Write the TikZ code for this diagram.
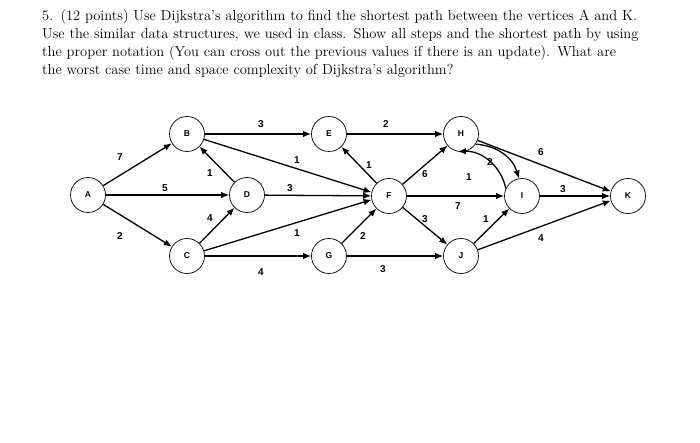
\documentclass[tikz,border=0pt]{standalone}
\usetikzlibrary{arrows.meta}
\usepackage{fontspec}
\newfontfamily\arialf{Liberation Sans}
\begin{document}
\begin{tikzpicture}[x=1pt,y=-1pt,
  vert/.style={circle,draw,line width=0.7pt,minimum size=35pt,inner sep=0pt,font=\arialf\bfseries\fontsize{8.5}{8.5}\selectfont},
  arc/.style={line width=1.3pt,-{Latex[length=8pt,width=6.5pt]}},
  wt/.style={font=\arialf\bfseries\fontsize{10}{10}\selectfont,inner sep=0pt}]
\useasboundingbox (0,0) rectangle (700,443);
\node[anchor=north west,align=left,text width=650pt,inner sep=0pt,font=\fontsize{14.5}{18.2}\selectfont] (q) at (42,9)
{5. (12 points) Use Dijkstra's algorithm to find the shortest path between the vertices A and K.\\
Use the similar data structures, we used in class. Show all steps and the shortest path by using\\
the proper notation (You can cross out the previous values if there is an update). What are\\
the worst case time and space complexity of Dijkstra's algorithm?};
\node[vert] (A) at (88,195) {A};
\node[vert] (B) at (187,134) {B};
\node[vert] (E) at (329,134) {E};
\node[vert] (H) at (461,134) {H};
\node[vert] (D) at (247,195) {D};
\node[vert] (F) at (389,196) {F};
\node[vert] (I) at (522,196) {I};
\node[vert] (K) at (628,196) {K};
\node[vert] (C) at (187,256) {C};
\node[vert] (G) at (329,256) {G};
\node[vert] (J) at (461,256) {J};
\draw[arc] (A)--(B); \draw[arc] (A)--(D); \draw[arc] (A)--(C);
\draw[arc] (B)--(E); \draw[arc] (B)--(F.168); \draw[arc] (D)--(B);
\draw[arc] (D)--(F); \draw[arc] (C)--(D); \draw[arc] (C)--(F.192);
\draw[arc] (C)--(G); \draw[arc] (G)--(F); \draw[arc] (F)--(E);
\draw[arc] (E)--(H); \draw[arc] (F)--(H); \draw[arc] (H.-35) to[bend left=35] (I.100);
\draw[arc] (I.155) to[bend right=40] (H.-100);
\draw[arc] (F)--(I); \draw[arc] (F)--(J); \draw[arc] (G)--(J);
\draw[arc] (J)--(I); \draw[arc] (H)--(K.165); \draw[arc] (I)--(K); \draw[arc] (J)--(K.195);
\node[wt] (w1) at (120,157) {7}; \node[wt] (w2) at (165,188) {5};
\node[wt] (w3) at (120,236) {2}; \node[wt] (w4) at (261,124) {3};
\node[wt] (w5) at (297,160) {1}; \node[wt] (w6) at (210,173) {1};
\node[wt] (w7) at (290,188) {3}; \node[wt] (w8) at (210,218) {4};
\node[wt] (w9) at (297,233) {1}; \node[wt] (w10) at (261,272) {4};
\node[wt] (w11) at (363,236) {2}; \node[wt] (w12) at (369,165) {1};
\node[wt] (w13) at (386,124) {2}; \node[wt] (w14) at (425,174) {6};
\node[wt] (w15) at (490,162) {2}; \node[wt] (w16) at (469,177) {1};
\node[wt] (w17) at (458,206) {7}; \node[wt] (w18) at (425,219) {3};
\node[wt] (w19) at (383,269) {3}; \node[wt] (w20) at (486,219) {1};
\node[wt] (w21) at (541,152) {6}; \node[wt] (w22) at (563,189) {3};
\node[wt] (w23) at (541,238) {4};
\end{tikzpicture}
\end{document}
